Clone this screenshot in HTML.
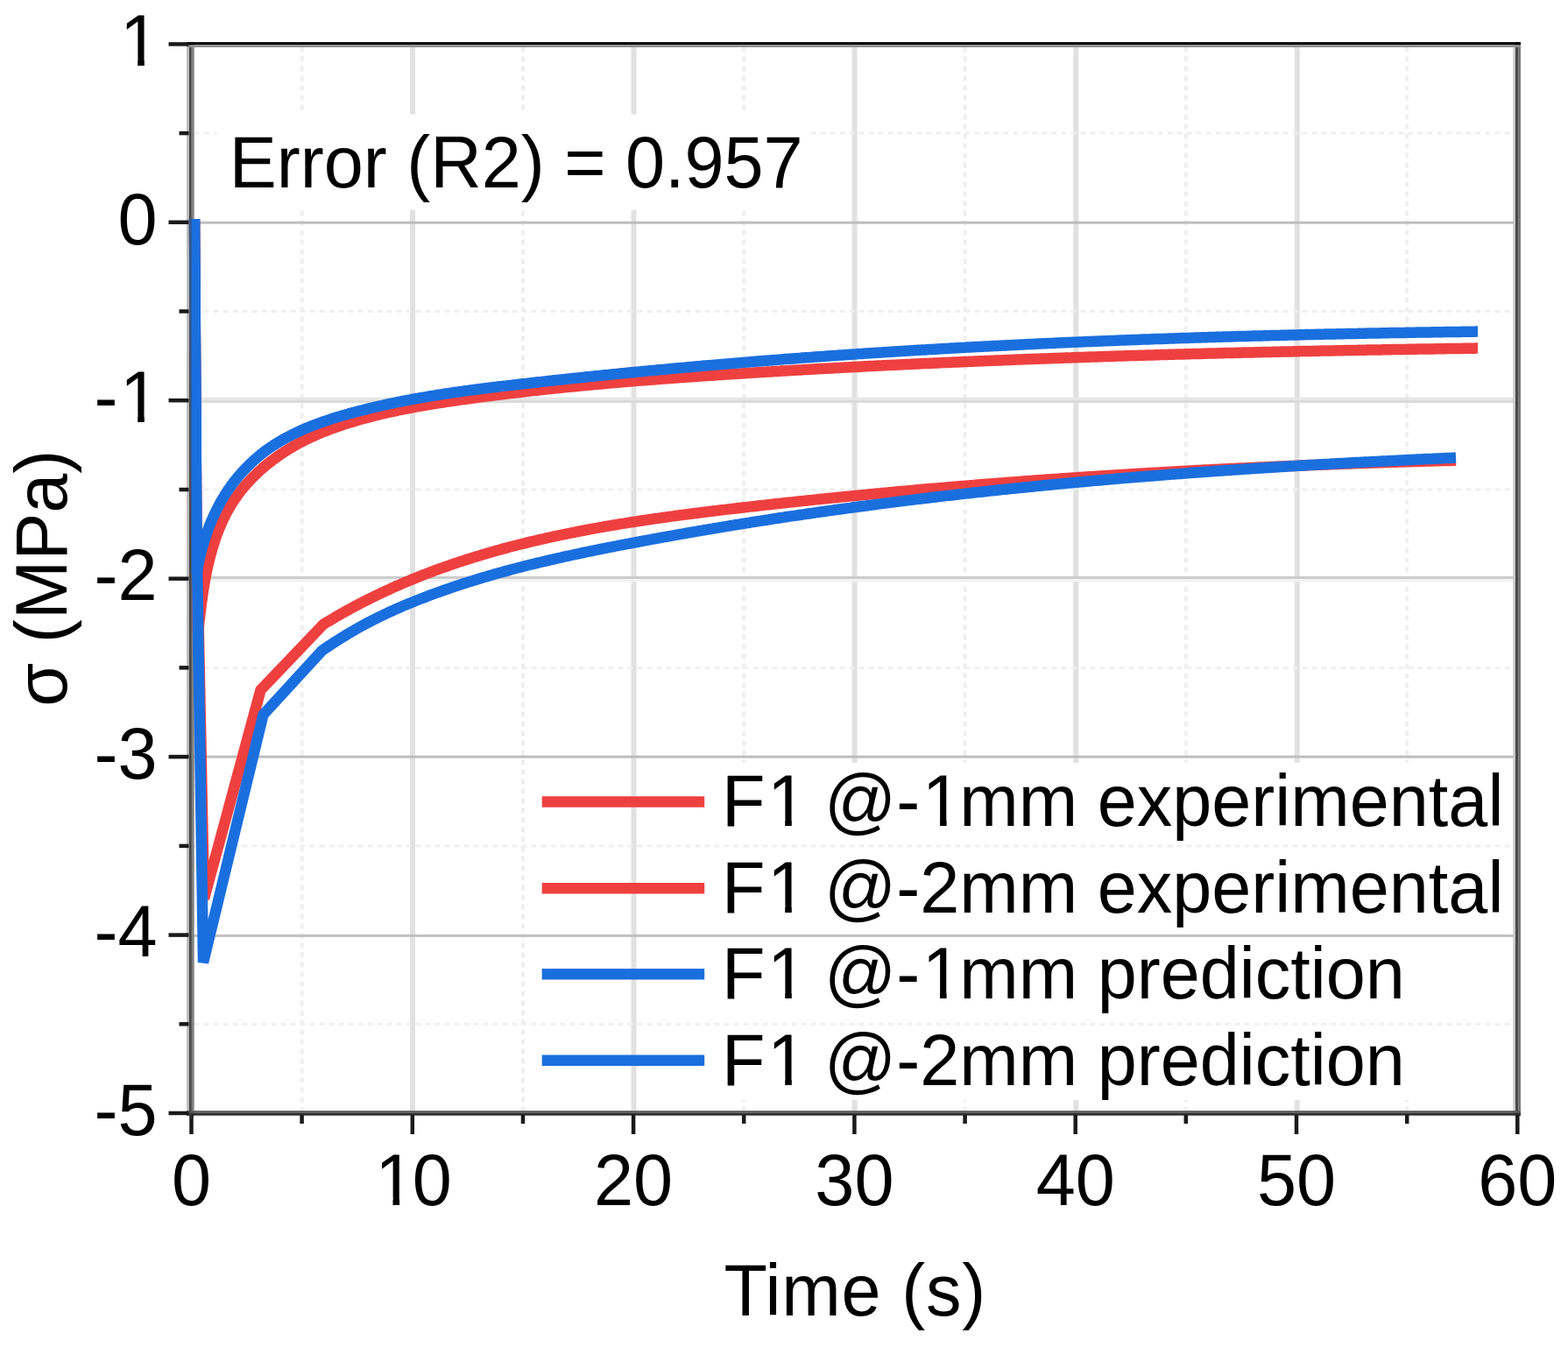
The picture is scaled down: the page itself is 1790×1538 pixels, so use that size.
<!DOCTYPE html>
<html><head><meta charset="utf-8"><title>Stress relaxation</title>
<style>
html,body{margin:0;padding:0;background:#fff;}
body{width:1790px;height:1538px;overflow:hidden;}
svg{display:block;}
text{font-family:"Liberation Sans",Arial,sans-serif;fill:#000;}
</style></head><body>
<svg width="1790" height="1538" viewBox="0 0 1790 1538">
<rect width="1790" height="1538" fill="#fff"/>

<g stroke="#efefef" stroke-width="4" stroke-dasharray="6,5">
<line x1="344.6" y1="53.4" x2="344.6" y2="1268.0"/>
<line x1="597.0" y1="53.4" x2="597.0" y2="1268.0"/>
<line x1="849.2" y1="53.4" x2="849.2" y2="1268.0"/>
<line x1="1101.6" y1="53.4" x2="1101.6" y2="1268.0"/>
<line x1="1353.8" y1="53.4" x2="1353.8" y2="1268.0"/>
<line x1="1606.2" y1="53.4" x2="1606.2" y2="1268.0"/>
</g>
<rect x="468.0" y="52.0" width="6.0" height="1217.0" fill="#e1e1e1"/>
<rect x="720.5" y="52.0" width="6.0" height="1217.0" fill="#e1e1e1"/>
<rect x="972.6" y="52.0" width="6.0" height="1217.0" fill="#e1e1e1"/>
<rect x="1225.3" y="52.0" width="6.0" height="1217.0" fill="#e1e1e1"/>
<rect x="1477.8" y="52.0" width="6.0" height="1217.0" fill="#e1e1e1"/>
<rect x="815.0" y="871.0" width="912.0" height="385.0" fill="#fff"/>
<g stroke="#efefef" stroke-width="3" stroke-dasharray="6,5">
<line x1="221.5" y1="152.1" x2="1729.3" y2="152.1"/>
<line x1="221.5" y1="355.5" x2="1729.3" y2="355.5"/>
<line x1="221.5" y1="559.0" x2="1729.3" y2="559.0"/>
<line x1="221.5" y1="762.4" x2="1729.3" y2="762.4"/>
<line x1="221.5" y1="965.9" x2="1729.3" y2="965.9"/>
<line x1="221.5" y1="1169.3" x2="1729.3" y2="1169.3"/>
</g>
<rect x="248.0" y="130.5" width="674.0" height="109.0" fill="#fff"/>
<rect x="221.0" y="252.7" width="1507.0" height="3.0" fill="#bdbdbd"/>
<rect x="221.0" y="453.7" width="1507.0" height="3.3" fill="#e6e6e6"/>
<rect x="221.0" y="457.0" width="1507.0" height="3.1" fill="#dadada"/>
<rect x="221.0" y="657.9" width="1507.0" height="3.1" fill="#cdcdcd"/>
<rect x="221.0" y="661.0" width="1507.0" height="3.4" fill="#f2f2f2"/>
<rect x="221.0" y="862.6" width="1507.0" height="3.0" fill="#bdbdbd"/>
<rect x="221.0" y="1066.9" width="1507.0" height="3.0" fill="#c0c0c0"/>
<rect x="213.0" y="48.0" width="2.9" height="1226.5" fill="#c0c0c0"/>
<rect x="215.9" y="48.0" width="2.9" height="1226.5" fill="#484848"/>
<rect x="218.8" y="48.0" width="2.9" height="1226.5" fill="#808080"/>
<rect x="1727.4" y="48.0" width="2.6" height="1226.5" fill="#c8c8c8"/>
<rect x="1730.0" y="48.0" width="3.2" height="1226.5" fill="#4a4a4a"/>
<rect x="1733.2" y="48.0" width="2.7" height="1226.5" fill="#707070"/>
<rect x="213.0" y="1268.2" width="1522.9" height="2.6" fill="#5a5a5a"/>
<rect x="213.0" y="1270.8" width="1522.9" height="2.9" fill="#303030"/>
<rect x="213.0" y="48.1" width="1522.9" height="3.2" fill="#000"/>
<rect x="213.0" y="51.3" width="1522.9" height="2.7" fill="#909090"/>
<g stroke="#1a1a1a" stroke-width="4.5">
<line x1="192.5" y1="50.4" x2="215.5" y2="50.4"/>
<line x1="192.5" y1="253.8" x2="215.5" y2="253.8"/>
<line x1="192.5" y1="457.2" x2="215.5" y2="457.2"/>
<line x1="192.5" y1="660.7" x2="215.5" y2="660.7"/>
<line x1="192.5" y1="864.1" x2="215.5" y2="864.1"/>
<line x1="192.5" y1="1067.6" x2="215.5" y2="1067.6"/>
<line x1="192.5" y1="1271.0" x2="215.5" y2="1271.0"/>
<line x1="204.5" y1="152.1" x2="215.5" y2="152.1"/>
<line x1="204.5" y1="355.5" x2="215.5" y2="355.5"/>
<line x1="204.5" y1="559.0" x2="215.5" y2="559.0"/>
<line x1="204.5" y1="762.4" x2="215.5" y2="762.4"/>
<line x1="204.5" y1="965.9" x2="215.5" y2="965.9"/>
<line x1="204.5" y1="1169.3" x2="215.5" y2="1169.3"/>
<line x1="218.5" y1="1273.0" x2="218.5" y2="1295.0"/>
<line x1="470.8" y1="1273.0" x2="470.8" y2="1295.0"/>
<line x1="723.1" y1="1273.0" x2="723.1" y2="1295.0"/>
<line x1="975.4" y1="1273.0" x2="975.4" y2="1295.0"/>
<line x1="1227.7" y1="1273.0" x2="1227.7" y2="1295.0"/>
<line x1="1480.0" y1="1273.0" x2="1480.0" y2="1295.0"/>
<line x1="1732.3" y1="1273.0" x2="1732.3" y2="1295.0"/>
<line x1="344.6" y1="1273.0" x2="344.6" y2="1283.0"/>
<line x1="597.0" y1="1273.0" x2="597.0" y2="1283.0"/>
<line x1="849.2" y1="1273.0" x2="849.2" y2="1283.0"/>
<line x1="1101.6" y1="1273.0" x2="1101.6" y2="1283.0"/>
<line x1="1353.8" y1="1273.0" x2="1353.8" y2="1283.0"/>
<line x1="1606.2" y1="1273.0" x2="1606.2" y2="1283.0"/>
</g>
<g fill="none" stroke-width="12.5" stroke-linejoin="miter" stroke-linecap="butt">
<path stroke="#ef4040" d="M222.0,250.0 L224.2,590.0 L226.0,724.0 L226.2,722.0 L226.4,720.0 L226.6,718.0 L226.8,716.0 L227.0,714.0 L227.2,712.0 L227.4,710.1 L227.7,708.1 L227.9,706.1 L228.1,704.1 L228.3,702.1 L228.6,700.1 L228.8,698.1 L229.0,696.1 L229.3,694.1 L229.5,692.1 L229.8,690.2 L230.0,688.2 L230.3,686.2 L230.6,684.2 L230.9,682.2 L231.1,680.2 L231.4,678.2 L231.7,676.3 L232.0,674.3 L232.3,672.3 L232.7,670.3 L233.0,668.4 L233.3,666.4 L233.7,664.4 L234.0,662.4 L234.4,660.5 L234.7,658.5 L235.1,656.5 L235.5,654.6 L235.9,652.6 L236.3,650.6 L236.7,648.7 L237.2,646.7 L237.6,644.8 L238.1,642.8 L238.5,640.9 L239.0,638.9 L239.5,637.0 L240.0,635.0 L240.5,633.1 L241.0,631.2 L241.6,629.2 L242.1,627.3 L242.7,625.4 L243.3,623.5 L243.9,621.6 L244.5,619.6 L245.1,617.7 L245.7,615.8 L246.4,613.9 L247.0,612.1 L247.7,610.2 L248.4,608.3 L249.2,606.4 L249.9,604.6 L250.6,602.7 L251.4,600.9 L252.2,599.0 L253.0,597.2 L253.8,595.4 L254.7,593.5 L255.5,591.7 L256.4,589.9 L257.3,588.1 L258.2,586.4 L259.2,584.6 L260.1,582.8 L261.1,581.1 L262.1,579.4 L263.1,577.6 L264.2,575.9 L265.2,574.2 L266.3,572.5 L267.4,570.9 L268.6,569.2 L269.7,567.6 L270.9,565.9 L272.0,564.3 L273.2,562.7 L274.5,561.1 L275.7,559.6 L277.0,558.0 L278.2,556.4 L279.5,554.9 L280.8,553.4 L282.2,551.9 L283.5,550.4 L284.9,548.9 L286.2,547.5 L287.6,546.0 L289.0,544.6 L290.5,543.2 L291.9,541.8 L293.3,540.4 L294.8,539.0 L296.3,537.7 L297.8,536.3 L299.3,535.0 L300.8,533.7 L302.3,532.4 L303.9,531.1 L305.4,529.9 L307.0,528.6 L308.5,527.4 L310.1,526.2 L311.7,524.9 L313.3,523.8 L315.0,522.6 L316.6,521.4 L318.2,520.3 L319.9,519.1 L321.5,518.0 L323.2,516.9 L324.9,515.8 L326.6,514.7 L328.3,513.7 L330.0,512.6 L331.7,511.6 L333.4,510.5 L335.1,509.5 L336.9,508.5 L338.6,507.6 L340.4,506.6 L342.1,505.6 L343.9,504.7 L345.7,503.8 L347.5,502.9 L349.3,502.0 L351.1,501.1 L352.9,500.2 L354.7,499.4 L356.5,498.5 L358.3,497.7 L360.2,496.9 L362.0,496.1 L363.8,495.3 L365.7,494.5 L367.5,493.8 L369.4,493.0 L371.3,492.3 L373.1,491.6 L375.0,490.8 L376.9,490.1 L378.8,489.4 L380.6,488.8 L382.5,488.1 L384.4,487.4 L386.3,486.8 L388.2,486.1 L390.1,485.5 L392.0,484.9 L393.9,484.2 L395.8,483.6 L397.7,483.0 L399.6,482.4 L401.6,481.9 L403.5,481.3 L405.4,480.7 L407.3,480.1 L409.3,479.6 L411.2,479.0 L413.1,478.5 L415.0,478.0 L417.0,477.4 L418.9,476.9 L420.8,476.4 L422.8,475.9 L424.7,475.4 L426.7,474.9 L428.6,474.4 L430.6,473.9 L432.5,473.5 L434.4,473.0 L436.4,472.5 L438.3,472.1 L440.3,471.6 L442.3,471.2 L444.2,470.7 L446.2,470.3 L448.1,469.9 L450.1,469.5 L452.0,469.1 L454.0,468.6 L456.0,468.2 L457.9,467.8 L459.9,467.4 L461.9,467.0 L463.8,466.7 L465.8,466.3 L467.8,465.9 L469.7,465.5 L471.7,465.2 L473.7,464.8 L475.6,464.4 L477.6,464.1 L479.6,463.7 L481.6,463.4 L483.5,463.1 L485.5,462.7 L487.5,462.4 L489.5,462.1 L491.4,461.7 L493.4,461.4 L495.4,461.1 L497.4,460.8 L499.3,460.4 L501.3,460.1 L503.3,459.8 L505.3,459.5 L507.3,459.2 L509.2,458.9 L511.2,458.6 L513.2,458.3 L515.2,458.0 L517.2,457.7 L519.1,457.5 L521.1,457.2 L523.1,456.9 L525.1,456.6 L527.1,456.3 L529.1,456.1 L531.1,455.8 L533.0,455.5 L535.0,455.2 L537.0,455.0 L539.0,454.7 L541.0,454.4 L543.0,454.2 L544.9,453.9 L546.9,453.6 L548.9,453.4 L550.9,453.1 L552.9,452.8 L554.9,452.6 L556.9,452.3 L558.9,452.1 L560.8,451.8 L562.8,451.6 L564.8,451.3 L566.8,451.1 L568.8,450.8 L570.8,450.6 L572.8,450.3 L574.8,450.1 L576.7,449.8 L578.7,449.6 L580.7,449.4 L582.7,449.1 L584.7,448.9 L586.7,448.7 L588.7,448.4 L590.7,448.2 L592.7,448.0 L594.7,447.7 L596.6,447.5 L598.6,447.3 L600.6,447.0 L602.6,446.8 L604.6,446.6 L606.6,446.4 L608.6,446.1 L610.6,445.9 L612.6,445.7 L614.6,445.5 L616.6,445.3 L618.5,445.0 L620.5,444.8 L622.5,444.6 L624.5,444.4 L626.5,444.2 L628.5,444.0 L630.5,443.8 L632.5,443.6 L634.5,443.4 L636.5,443.2 L638.5,442.9 L640.5,442.7 L642.5,442.5 L644.4,442.3 L646.4,442.1 L648.4,441.9 L650.4,441.7 L652.4,441.5 L654.4,441.4 L656.4,441.2 L658.4,441.0 L660.4,440.8 L662.4,440.6 L664.4,440.4 L666.4,440.2 L668.4,440.0 L670.4,439.8 L672.4,439.6 L674.4,439.5 L676.4,439.3 L678.3,439.1 L680.3,438.9 L682.3,438.7 L684.3,438.5 L686.3,438.4 L688.3,438.2 L690.3,438.0 L692.3,437.8 L694.3,437.6 L696.3,437.5 L698.3,437.3 L700.3,437.1 L702.3,437.0 L704.3,436.8 L706.3,436.6 L708.3,436.4 L710.3,436.3 L712.3,436.1 L714.3,435.9 L716.3,435.8 L718.3,435.6 L720.3,435.4 L722.3,435.3 L724.3,435.1 L726.3,435.0 L728.2,434.8 L730.2,434.6 L732.2,434.5 L734.2,434.3 L736.2,434.2 L738.2,434.0 L740.2,433.8 L742.2,433.7 L744.2,433.5 L746.2,433.4 L748.2,433.2 L750.2,433.1 L752.2,432.9 L754.2,432.8 L756.2,432.6 L758.2,432.5 L760.2,432.3 L762.2,432.2 L764.2,432.0 L766.2,431.9 L768.2,431.7 L770.2,431.6 L772.2,431.4 L774.2,431.3 L776.2,431.1 L778.2,431.0 L780.2,430.9 L782.2,430.7 L784.2,430.6 L786.2,430.4 L788.2,430.3 L790.2,430.2 L792.2,430.0 L794.2,429.9 L796.2,429.7 L798.2,429.6 L800.2,429.5 L802.2,429.3 L804.2,429.2 L806.2,429.1 L808.2,428.9 L810.2,428.8 L812.2,428.7 L814.2,428.5 L816.2,428.4 L818.2,428.3 L820.2,428.1 L822.2,428.0 L824.2,427.9 L826.2,427.7 L828.2,427.6 L830.2,427.5 L832.2,427.3 L834.2,427.2 L836.2,427.1 L838.2,427.0 L840.2,426.8 L842.2,426.7 L844.2,426.6 L846.2,426.4 L848.2,426.3 L850.2,426.2 L852.2,426.1 L854.1,425.9 L856.1,425.8 L858.1,425.7 L860.1,425.6 L862.1,425.4 L864.1,425.3 L866.1,425.2 L868.1,425.1 L870.1,425.0 L872.1,424.8 L874.1,424.7 L876.1,424.6 L878.1,424.5 L880.1,424.4 L882.1,424.2 L884.1,424.1 L886.1,424.0 L888.1,423.9 L890.1,423.8 L892.1,423.6 L894.1,423.5 L896.1,423.4 L898.1,423.3 L900.1,423.2 L902.1,423.0 L904.1,422.9 L906.1,422.8 L908.1,422.7 L910.1,422.6 L912.1,422.5 L914.1,422.4 L916.1,422.2 L918.1,422.1 L920.1,422.0 L922.1,421.9 L924.1,421.8 L926.1,421.7 L928.1,421.6 L930.1,421.5 L932.1,421.3 L934.1,421.2 L936.1,421.1 L938.1,421.0 L940.1,420.9 L942.1,420.8 L944.1,420.7 L946.1,420.6 L948.1,420.5 L950.1,420.4 L952.2,420.2 L954.2,420.1 L956.2,420.0 L958.2,419.9 L960.2,419.8 L962.2,419.7 L964.2,419.6 L966.2,419.5 L968.2,419.4 L970.2,419.3 L972.2,419.2 L974.2,419.1 L976.2,419.0 L978.2,418.9 L980.2,418.8 L982.2,418.7 L984.2,418.6 L986.2,418.5 L988.2,418.3 L990.2,418.2 L992.2,418.1 L994.2,418.0 L996.2,417.9 L998.2,417.8 L1000.2,417.7 L1002.2,417.6 L1004.2,417.5 L1006.2,417.4 L1008.2,417.3 L1010.2,417.2 L1012.2,417.1 L1014.2,417.0 L1016.2,416.9 L1018.2,416.8 L1020.2,416.8 L1022.2,416.7 L1024.2,416.6 L1026.2,416.5 L1028.2,416.4 L1030.2,416.3 L1032.2,416.2 L1034.2,416.1 L1036.2,416.0 L1038.2,415.9 L1040.2,415.8 L1042.2,415.7 L1044.2,415.6 L1046.2,415.5 L1048.2,415.4 L1050.2,415.3 L1052.2,415.2 L1054.2,415.1 L1056.2,415.0 L1058.2,415.0 L1060.2,414.9 L1062.2,414.8 L1064.2,414.7 L1066.2,414.6 L1068.2,414.5 L1070.2,414.4 L1072.2,414.3 L1074.2,414.2 L1076.2,414.1 L1078.2,414.1 L1080.2,414.0 L1082.2,413.9 L1084.2,413.8 L1086.2,413.7 L1088.2,413.6 L1090.2,413.5 L1092.2,413.4 L1094.2,413.4 L1096.2,413.3 L1098.2,413.2 L1100.2,413.1 L1102.2,413.0 L1104.2,412.9 L1106.2,412.8 L1108.2,412.8 L1110.2,412.7 L1112.2,412.6 L1114.2,412.5 L1116.2,412.4 L1118.2,412.3 L1120.2,412.3 L1122.2,412.2 L1124.2,412.1 L1126.2,412.0 L1128.3,411.9 L1130.3,411.8 L1132.3,411.8 L1134.3,411.7 L1136.3,411.6 L1138.3,411.5 L1140.3,411.4 L1142.3,411.4 L1144.3,411.3 L1146.3,411.2 L1148.3,411.1 L1150.3,411.0 L1152.3,411.0 L1154.3,410.9 L1156.3,410.8 L1158.3,410.7 L1160.3,410.6 L1162.3,410.6 L1164.3,410.5 L1166.3,410.4 L1168.3,410.3 L1170.3,410.3 L1172.3,410.2 L1174.3,410.1 L1176.3,410.0 L1178.3,410.0 L1180.3,409.9 L1182.3,409.8 L1184.3,409.7 L1186.3,409.7 L1188.3,409.6 L1190.3,409.5 L1192.3,409.4 L1194.3,409.4 L1196.3,409.3 L1198.3,409.2 L1200.3,409.2 L1202.3,409.1 L1204.3,409.0 L1206.3,408.9 L1208.3,408.9 L1210.3,408.8 L1212.3,408.7 L1214.3,408.7 L1216.3,408.6 L1218.3,408.5 L1220.3,408.4 L1222.3,408.4 L1224.3,408.3 L1226.3,408.2 L1228.4,408.2 L1230.4,408.1 L1232.4,408.0 L1234.4,408.0 L1236.4,407.9 L1238.4,407.8 L1240.4,407.8 L1242.4,407.7 L1244.4,407.6 L1246.4,407.6 L1248.4,407.5 L1250.4,407.4 L1252.4,407.4 L1254.4,407.3 L1256.4,407.2 L1258.4,407.2 L1260.4,407.1 L1262.4,407.0 L1264.4,407.0 L1266.4,406.9 L1268.4,406.8 L1270.4,406.8 L1272.4,406.7 L1274.4,406.6 L1276.4,406.6 L1278.4,406.5 L1280.4,406.5 L1282.4,406.4 L1284.4,406.3 L1286.4,406.3 L1288.4,406.2 L1290.4,406.1 L1292.4,406.1 L1294.4,406.0 L1296.4,406.0 L1298.4,405.9 L1300.4,405.8 L1302.4,405.8 L1304.4,405.7 L1306.4,405.7 L1308.4,405.6 L1310.4,405.5 L1312.5,405.5 L1314.5,405.4 L1316.5,405.4 L1318.5,405.3 L1320.5,405.2 L1322.5,405.2 L1324.5,405.1 L1326.5,405.1 L1328.5,405.0 L1330.5,405.0 L1332.5,404.9 L1334.5,404.8 L1336.5,404.8 L1338.5,404.7 L1340.5,404.7 L1342.5,404.6 L1344.5,404.6 L1346.5,404.5 L1348.5,404.5 L1350.5,404.4 L1352.5,404.3 L1354.5,404.3 L1356.5,404.2 L1358.5,404.2 L1360.5,404.1 L1362.5,404.1 L1364.5,404.0 L1366.5,404.0 L1368.5,403.9 L1370.5,403.9 L1372.5,403.8 L1374.5,403.8 L1376.5,403.7 L1378.5,403.6 L1380.5,403.6 L1382.5,403.5 L1384.5,403.5 L1386.5,403.4 L1388.6,403.4 L1390.6,403.3 L1392.6,403.3 L1394.6,403.2 L1396.6,403.2 L1398.6,403.1 L1400.6,403.1 L1402.6,403.0 L1404.6,403.0 L1406.6,402.9 L1408.6,402.9 L1410.6,402.8 L1412.6,402.8 L1414.6,402.7 L1416.6,402.7 L1418.6,402.6 L1420.6,402.6 L1422.6,402.5 L1424.6,402.5 L1426.6,402.5 L1428.6,402.4 L1430.6,402.4 L1432.6,402.3 L1434.6,402.3 L1436.6,402.2 L1438.6,402.2 L1440.6,402.1 L1442.6,402.1 L1444.6,402.0 L1446.6,402.0 L1448.6,401.9 L1450.6,401.9 L1452.6,401.8 L1454.6,401.8 L1456.6,401.8 L1458.7,401.7 L1460.7,401.7 L1462.7,401.6 L1464.7,401.6 L1466.7,401.5 L1468.7,401.5 L1470.7,401.4 L1472.7,401.4 L1474.7,401.4 L1476.7,401.3 L1478.7,401.3 L1480.7,401.2 L1482.7,401.2 L1484.7,401.1 L1486.7,401.1 L1488.7,401.1 L1490.7,401.0 L1492.7,401.0 L1494.7,400.9 L1496.7,400.9 L1498.7,400.9 L1500.7,400.8 L1502.7,400.8 L1504.7,400.7 L1506.7,400.7 L1508.7,400.6 L1510.7,400.6 L1512.7,400.6 L1514.7,400.5 L1516.7,400.5 L1518.7,400.4 L1520.7,400.4 L1522.7,400.4 L1524.7,400.3 L1526.8,400.3 L1528.8,400.2 L1530.8,400.2 L1532.8,400.2 L1534.8,400.1 L1536.8,400.1 L1538.8,400.1 L1540.8,400.0 L1542.8,400.0 L1544.8,399.9 L1546.8,399.9 L1548.8,399.9 L1550.8,399.8 L1552.8,399.8 L1554.8,399.8 L1556.8,399.7 L1558.8,399.7 L1560.8,399.6 L1562.8,399.6 L1564.8,399.6 L1566.8,399.5 L1568.8,399.5 L1570.8,399.5 L1572.8,399.4 L1574.8,399.4 L1576.8,399.4 L1578.8,399.3 L1580.8,399.3 L1582.8,399.3 L1584.8,399.2 L1586.8,399.2 L1588.8,399.1 L1590.8,399.1 L1592.9,399.1 L1594.9,399.0 L1596.9,399.0 L1598.9,399.0 L1600.9,398.9 L1602.9,398.9 L1604.9,398.9 L1606.9,398.8 L1608.9,398.8 L1610.9,398.8 L1612.9,398.7 L1614.9,398.7 L1616.9,398.7 L1618.9,398.6 L1620.9,398.6 L1622.9,398.6 L1624.9,398.5 L1626.9,398.5 L1628.9,398.5 L1630.9,398.4 L1632.9,398.4 L1634.9,398.4 L1636.9,398.4 L1638.9,398.3 L1640.9,398.3 L1642.9,398.3 L1644.9,398.2 L1646.9,398.2 L1648.9,398.2 L1650.9,398.1 L1652.9,398.1 L1654.9,398.1 L1657.0,398.0 L1659.0,398.0 L1661.0,398.0 L1663.0,398.0 L1665.0,397.9 L1667.0,397.9 L1669.0,397.9 L1671.0,397.8 L1673.0,397.8 L1675.0,397.8 L1677.0,397.7 L1679.0,397.7 L1681.0,397.7 L1683.0,397.7 L1685.0,397.6 L1687.0,397.6"/>
<path stroke="#ef4040" d="M222.0,250.0 L224.2,590.0 L233.0,1026.0 L297.5,788.0 L369.0,713.0 L370.7,711.9 L372.4,710.9 L374.1,709.9 L375.9,708.8 L377.6,707.8 L379.3,706.8 L381.0,705.8 L382.8,704.7 L384.5,703.7 L386.2,702.7 L388.0,701.7 L389.7,700.7 L391.5,699.8 L393.2,698.8 L395.0,697.8 L396.7,696.8 L398.5,695.9 L400.2,694.9 L402.0,693.9 L403.8,693.0 L405.5,692.0 L407.3,691.1 L409.1,690.2 L410.8,689.2 L412.6,688.3 L414.4,687.4 L416.2,686.5 L418.0,685.6 L419.8,684.7 L421.6,683.8 L423.4,682.9 L425.2,682.0 L427.0,681.1 L428.8,680.2 L430.6,679.4 L432.4,678.5 L434.2,677.6 L436.0,676.8 L437.8,675.9 L439.6,675.1 L441.4,674.2 L443.3,673.4 L445.1,672.6 L446.9,671.7 L448.7,670.9 L450.6,670.1 L452.4,669.3 L454.2,668.5 L456.1,667.7 L457.9,666.9 L459.8,666.1 L461.6,665.3 L463.5,664.5 L465.3,663.7 L467.2,663.0 L469.0,662.2 L470.9,661.4 L472.7,660.7 L474.6,659.9 L476.4,659.2 L478.3,658.4 L480.2,657.7 L482.0,656.9 L483.9,656.2 L485.8,655.5 L487.6,654.8 L489.5,654.1 L491.4,653.3 L493.3,652.6 L495.1,651.9 L497.0,651.2 L498.9,650.5 L500.8,649.9 L502.7,649.2 L504.6,648.5 L506.5,647.8 L508.3,647.1 L510.2,646.5 L512.1,645.8 L514.0,645.2 L515.9,644.5 L517.8,643.9 L519.7,643.2 L521.6,642.6 L523.5,641.9 L525.4,641.3 L527.3,640.7 L529.2,640.1 L531.1,639.5 L533.1,638.8 L535.0,638.2 L536.9,637.6 L538.8,637.0 L540.7,636.4 L542.6,635.8 L544.5,635.2 L546.5,634.7 L548.4,634.1 L550.3,633.5 L552.2,632.9 L554.1,632.4 L556.1,631.8 L558.0,631.2 L559.9,630.7 L561.8,630.1 L563.8,629.6 L565.7,629.0 L567.6,628.5 L569.6,628.0 L571.5,627.4 L573.4,626.9 L575.4,626.4 L577.3,625.9 L579.2,625.3 L581.2,624.8 L583.1,624.3 L585.1,623.8 L587.0,623.3 L588.9,622.8 L590.9,622.3 L592.8,621.8 L594.8,621.3 L596.7,620.8 L598.7,620.4 L600.6,619.9 L602.6,619.4 L604.5,618.9 L606.5,618.5 L608.4,618.0 L610.4,617.5 L612.3,617.1 L614.3,616.6 L616.2,616.2 L618.2,615.7 L620.1,615.3 L622.1,614.8 L624.0,614.4 L626.0,614.0 L628.0,613.5 L629.9,613.1 L631.9,612.7 L633.8,612.2 L635.8,611.8 L637.8,611.4 L639.7,611.0 L641.7,610.6 L643.7,610.2 L645.6,609.8 L647.6,609.4 L649.5,609.0 L651.5,608.6 L653.5,608.2 L655.4,607.8 L657.4,607.4 L659.4,607.0 L661.3,606.6 L663.3,606.3 L665.3,605.9 L667.3,605.5 L669.2,605.1 L671.2,604.8 L673.2,604.4 L675.1,604.0 L677.1,603.7 L679.1,603.3 L681.1,602.9 L683.0,602.6 L685.0,602.2 L687.0,601.9 L689.0,601.5 L690.9,601.2 L692.9,600.9 L694.9,600.5 L696.9,600.2 L698.8,599.8 L700.8,599.5 L702.8,599.2 L704.8,598.9 L706.8,598.5 L708.7,598.2 L710.7,597.9 L712.7,597.6 L714.7,597.2 L716.7,596.9 L718.6,596.6 L720.6,596.3 L722.6,596.0 L724.6,595.7 L726.6,595.4 L728.5,595.1 L730.5,594.8 L732.5,594.5 L734.5,594.2 L736.5,593.9 L738.5,593.6 L740.4,593.3 L742.4,593.0 L744.4,592.7 L746.4,592.4 L748.4,592.1 L750.4,591.9 L752.4,591.6 L754.3,591.3 L756.3,591.0 L758.3,590.7 L760.3,590.5 L762.3,590.2 L764.3,589.9 L766.3,589.6 L768.2,589.4 L770.2,589.1 L772.2,588.8 L774.2,588.6 L776.2,588.3 L778.2,588.1 L780.2,587.8 L782.2,587.5 L784.1,587.3 L786.1,587.0 L788.1,586.8 L790.1,586.5 L792.1,586.3 L794.1,586.0 L796.1,585.7 L798.1,585.5 L800.1,585.2 L802.1,585.0 L804.0,584.8 L806.0,584.5 L808.0,584.3 L810.0,584.0 L812.0,583.8 L814.0,583.5 L816.0,583.3 L818.0,583.1 L820.0,582.8 L822.0,582.6 L823.9,582.3 L825.9,582.1 L827.9,581.9 L829.9,581.6 L831.9,581.4 L833.9,581.2 L835.9,580.9 L837.9,580.7 L839.9,580.5 L841.9,580.2 L843.9,580.0 L845.9,579.8 L847.9,579.6 L849.8,579.3 L851.8,579.1 L853.8,578.9 L855.8,578.6 L857.8,578.4 L859.8,578.2 L861.8,578.0 L863.8,577.7 L865.8,577.5 L867.8,577.3 L869.8,577.1 L871.8,576.9 L873.8,576.6 L875.8,576.4 L877.7,576.2 L879.7,576.0 L881.7,575.8 L883.7,575.5 L885.7,575.3 L887.7,575.1 L889.7,574.9 L891.7,574.7 L893.7,574.4 L895.7,574.2 L897.7,574.0 L899.7,573.8 L901.7,573.6 L903.7,573.4 L905.7,573.2 L907.7,572.9 L909.6,572.7 L911.6,572.5 L913.6,572.3 L915.6,572.1 L917.6,571.9 L919.6,571.7 L921.6,571.5 L923.6,571.3 L925.6,571.1 L927.6,570.9 L929.6,570.6 L931.6,570.4 L933.6,570.2 L935.6,570.0 L937.6,569.8 L939.6,569.6 L941.6,569.4 L943.6,569.2 L945.5,569.0 L947.5,568.8 L949.5,568.6 L951.5,568.4 L953.5,568.2 L955.5,568.0 L957.5,567.8 L959.5,567.6 L961.5,567.4 L963.5,567.2 L965.5,567.0 L967.5,566.8 L969.5,566.6 L971.5,566.4 L973.5,566.2 L975.5,566.0 L977.5,565.8 L979.5,565.6 L981.5,565.4 L983.5,565.3 L985.5,565.1 L987.5,564.9 L989.5,564.7 L991.5,564.5 L993.4,564.3 L995.4,564.1 L997.4,563.9 L999.4,563.7 L1001.4,563.5 L1003.4,563.4 L1005.4,563.2 L1007.4,563.0 L1009.4,562.8 L1011.4,562.6 L1013.4,562.4 L1015.4,562.2 L1017.4,562.1 L1019.4,561.9 L1021.4,561.7 L1023.4,561.5 L1025.4,561.3 L1027.4,561.1 L1029.4,561.0 L1031.4,560.8 L1033.4,560.6 L1035.4,560.4 L1037.4,560.2 L1039.4,560.1 L1041.4,559.9 L1043.4,559.7 L1045.4,559.5 L1047.4,559.3 L1049.4,559.2 L1051.4,559.0 L1053.4,558.8 L1055.4,558.6 L1057.4,558.5 L1059.4,558.3 L1061.3,558.1 L1063.3,558.0 L1065.3,557.8 L1067.3,557.6 L1069.3,557.4 L1071.3,557.3 L1073.3,557.1 L1075.3,556.9 L1077.3,556.8 L1079.3,556.6 L1081.3,556.4 L1083.3,556.2 L1085.3,556.1 L1087.3,555.9 L1089.3,555.7 L1091.3,555.6 L1093.3,555.4 L1095.3,555.2 L1097.3,555.1 L1099.3,554.9 L1101.3,554.8 L1103.3,554.6 L1105.3,554.4 L1107.3,554.3 L1109.3,554.1 L1111.3,553.9 L1113.3,553.8 L1115.3,553.6 L1117.3,553.5 L1119.3,553.3 L1121.3,553.1 L1123.3,553.0 L1125.3,552.8 L1127.3,552.7 L1129.3,552.5 L1131.3,552.4 L1133.3,552.2 L1135.3,552.0 L1137.3,551.9 L1139.3,551.7 L1141.3,551.6 L1143.3,551.4 L1145.3,551.3 L1147.3,551.1 L1149.3,551.0 L1151.3,550.8 L1153.3,550.7 L1155.3,550.5 L1157.3,550.4 L1159.3,550.2 L1161.3,550.1 L1163.3,549.9 L1165.3,549.8 L1167.3,549.6 L1169.3,549.5 L1171.3,549.3 L1173.3,549.2 L1175.3,549.0 L1177.3,548.9 L1179.3,548.7 L1181.3,548.6 L1183.3,548.5 L1185.3,548.3 L1187.3,548.2 L1189.3,548.0 L1191.3,547.9 L1193.3,547.7 L1195.3,547.6 L1197.3,547.5 L1199.3,547.3 L1201.3,547.2 L1203.3,547.0 L1205.3,546.9 L1207.3,546.8 L1209.3,546.6 L1211.3,546.5 L1213.3,546.3 L1215.3,546.2 L1217.3,546.1 L1219.3,545.9 L1221.3,545.8 L1223.3,545.7 L1225.3,545.5 L1227.3,545.4 L1229.3,545.3 L1231.3,545.1 L1233.3,545.0 L1235.3,544.9 L1237.3,544.7 L1239.3,544.6 L1241.3,544.5 L1243.3,544.3 L1245.3,544.2 L1247.3,544.1 L1249.3,543.9 L1251.3,543.8 L1253.3,543.7 L1255.3,543.5 L1257.3,543.4 L1259.3,543.3 L1261.3,543.2 L1263.3,543.0 L1265.3,542.9 L1267.3,542.8 L1269.3,542.7 L1271.3,542.5 L1273.3,542.4 L1275.3,542.3 L1277.3,542.2 L1279.3,542.0 L1281.3,541.9 L1283.3,541.8 L1285.3,541.7 L1287.3,541.6 L1289.3,541.4 L1291.3,541.3 L1293.4,541.2 L1295.4,541.1 L1297.4,541.0 L1299.4,540.8 L1301.4,540.7 L1303.4,540.6 L1305.4,540.5 L1307.4,540.4 L1309.4,540.2 L1311.4,540.1 L1313.4,540.0 L1315.4,539.9 L1317.4,539.8 L1319.4,539.7 L1321.4,539.6 L1323.4,539.4 L1325.4,539.3 L1327.4,539.2 L1329.4,539.1 L1331.4,539.0 L1333.4,538.9 L1335.4,538.8 L1337.4,538.7 L1339.4,538.5 L1341.4,538.4 L1343.4,538.3 L1345.4,538.2 L1347.4,538.1 L1349.4,538.0 L1351.4,537.9 L1353.4,537.8 L1355.4,537.7 L1357.4,537.6 L1359.4,537.5 L1361.4,537.4 L1363.4,537.2 L1365.4,537.1 L1367.4,537.0 L1369.4,536.9 L1371.4,536.8 L1373.4,536.7 L1375.4,536.6 L1377.4,536.5 L1379.5,536.4 L1381.5,536.3 L1383.5,536.2 L1385.5,536.1 L1387.5,536.0 L1389.5,535.9 L1391.5,535.8 L1393.5,535.7 L1395.5,535.6 L1397.5,535.5 L1399.5,535.4 L1401.5,535.3 L1403.5,535.2 L1405.5,535.1 L1407.5,535.0 L1409.5,534.9 L1411.5,534.8 L1413.5,534.7 L1415.5,534.6 L1417.5,534.5 L1419.5,534.5 L1421.5,534.4 L1423.5,534.3 L1425.5,534.2 L1427.5,534.1 L1429.5,534.0 L1431.5,533.9 L1433.5,533.8 L1435.5,533.7 L1437.5,533.6 L1439.5,533.5 L1441.5,533.4 L1443.5,533.4 L1445.6,533.3 L1447.6,533.2 L1449.6,533.1 L1451.6,533.0 L1453.6,532.9 L1455.6,532.8 L1457.6,532.7 L1459.6,532.6 L1461.6,532.6 L1463.6,532.5 L1465.6,532.4 L1467.6,532.3 L1469.6,532.2 L1471.6,532.1 L1473.6,532.0 L1475.6,532.0 L1477.6,531.9 L1479.6,531.8 L1481.6,531.7 L1483.6,531.6 L1485.6,531.6 L1487.6,531.5 L1489.6,531.4 L1491.6,531.3 L1493.6,531.2 L1495.6,531.1 L1497.6,531.1 L1499.7,531.0 L1501.7,530.9 L1503.7,530.8 L1505.7,530.8 L1507.7,530.7 L1509.7,530.6 L1511.7,530.5 L1513.7,530.4 L1515.7,530.4 L1517.7,530.3 L1519.7,530.2 L1521.7,530.1 L1523.7,530.1 L1525.7,530.0 L1527.7,529.9 L1529.7,529.8 L1531.7,529.8 L1533.7,529.7 L1535.7,529.6 L1537.7,529.5 L1539.7,529.5 L1541.7,529.4 L1543.7,529.3 L1545.7,529.3 L1547.7,529.2 L1549.8,529.1 L1551.8,529.0 L1553.8,529.0 L1555.8,528.9 L1557.8,528.8 L1559.8,528.8 L1561.8,528.7 L1563.8,528.6 L1565.8,528.6 L1567.8,528.5 L1569.8,528.4 L1571.8,528.4 L1573.8,528.3 L1575.8,528.2 L1577.8,528.2 L1579.8,528.1 L1581.8,528.0 L1583.8,528.0 L1585.8,527.9 L1587.8,527.8 L1589.8,527.8 L1591.8,527.7 L1593.8,527.7 L1595.8,527.6 L1597.9,527.5 L1599.9,527.5 L1601.9,527.4 L1603.9,527.3 L1605.9,527.3 L1607.9,527.2 L1609.9,527.2 L1611.9,527.1 L1613.9,527.0 L1615.9,527.0 L1617.9,526.9 L1619.9,526.9 L1621.9,526.8 L1623.9,526.7 L1625.9,526.7 L1627.9,526.6 L1629.9,526.6 L1631.9,526.5 L1633.9,526.5 L1635.9,526.4 L1637.9,526.3 L1639.9,526.3 L1642.0,526.2 L1644.0,526.2 L1646.0,526.1 L1648.0,526.1 L1650.0,526.0 L1652.0,526.0 L1654.0,525.9 L1656.0,525.9 L1658.0,525.8 L1660.0,525.8 L1662.0,525.7"/>
<path stroke="#1a6fde" d="M222.0,250.0 L224.2,590.0 L224.5,655.0 L224.8,653.0 L225.1,651.0 L225.5,649.1 L225.8,647.1 L226.2,645.1 L226.6,643.2 L227.0,641.2 L227.4,639.2 L227.9,637.3 L228.3,635.3 L228.8,633.4 L229.3,631.4 L229.7,629.5 L230.3,627.5 L230.8,625.6 L231.3,623.7 L231.9,621.7 L232.4,619.8 L233.0,617.9 L233.6,616.0 L234.2,614.1 L234.9,612.2 L235.5,610.3 L236.2,608.4 L236.8,606.5 L237.5,604.6 L238.2,602.7 L238.9,600.9 L239.7,599.0 L240.4,597.2 L241.2,595.3 L242.0,593.5 L242.8,591.6 L243.6,589.8 L244.4,588.0 L245.3,586.2 L246.2,584.3 L247.0,582.5 L247.9,580.8 L248.9,579.0 L249.8,577.2 L250.8,575.4 L251.7,573.7 L252.7,571.9 L253.7,570.2 L254.7,568.5 L255.8,566.8 L256.8,565.0 L257.9,563.4 L259.0,561.7 L260.1,560.0 L261.2,558.3 L262.4,556.7 L263.5,555.1 L264.7,553.4 L265.9,551.8 L267.1,550.2 L268.3,548.7 L269.6,547.1 L270.9,545.5 L272.1,544.0 L273.4,542.5 L274.8,540.9 L276.1,539.4 L277.4,538.0 L278.8,536.5 L280.2,535.0 L281.6,533.6 L283.0,532.2 L284.4,530.8 L285.8,529.4 L287.3,528.0 L288.8,526.6 L290.3,525.3 L291.8,524.0 L293.3,522.6 L294.8,521.3 L296.3,520.1 L297.9,518.8 L299.5,517.6 L301.1,516.3 L302.7,515.1 L304.3,513.9 L305.9,512.8 L307.5,511.6 L309.2,510.5 L310.9,509.4 L312.5,508.3 L314.2,507.2 L315.9,506.1 L317.6,505.1 L319.3,504.0 L321.1,503.0 L322.8,502.0 L324.6,501.0 L326.3,500.1 L328.1,499.1 L329.8,498.2 L331.6,497.2 L333.4,496.3 L335.2,495.4 L337.0,494.6 L338.8,493.7 L340.6,492.9 L342.5,492.0 L344.3,491.2 L346.1,490.4 L348.0,489.6 L349.8,488.8 L351.7,488.0 L353.5,487.3 L355.4,486.5 L357.2,485.8 L359.1,485.1 L361.0,484.4 L362.9,483.7 L364.7,483.0 L366.6,482.3 L368.5,481.6 L370.4,481.0 L372.3,480.3 L374.2,479.7 L376.1,479.1 L378.0,478.4 L379.9,477.8 L381.8,477.2 L383.8,476.6 L385.7,476.0 L387.6,475.5 L389.5,474.9 L391.4,474.3 L393.4,473.8 L395.3,473.2 L397.2,472.7 L399.2,472.1 L401.1,471.6 L403.0,471.1 L405.0,470.6 L406.9,470.1 L408.8,469.6 L410.8,469.0 L412.7,468.5 L414.7,468.1 L416.6,467.6 L418.6,467.1 L420.5,466.6 L422.4,466.1 L424.4,465.7 L426.3,465.2 L428.3,464.7 L430.3,464.3 L432.2,463.8 L434.2,463.4 L436.1,463.0 L438.1,462.5 L440.0,462.1 L442.0,461.7 L443.9,461.2 L445.9,460.8 L447.9,460.4 L449.8,460.0 L451.8,459.6 L453.8,459.2 L455.7,458.8 L457.7,458.4 L459.7,458.0 L461.6,457.6 L463.6,457.3 L465.6,456.9 L467.5,456.5 L469.5,456.1 L471.5,455.8 L473.4,455.4 L475.4,455.0 L477.4,454.7 L479.4,454.3 L481.3,454.0 L483.3,453.7 L485.3,453.3 L487.3,453.0 L489.2,452.6 L491.2,452.3 L493.2,452.0 L495.2,451.7 L497.2,451.3 L499.1,451.0 L501.1,450.7 L503.1,450.4 L505.1,450.1 L507.1,449.8 L509.0,449.5 L511.0,449.2 L513.0,448.9 L515.0,448.6 L517.0,448.3 L519.0,448.0 L520.9,447.7 L522.9,447.5 L524.9,447.2 L526.9,446.9 L528.9,446.6 L530.9,446.3 L532.9,446.1 L534.8,445.8 L536.8,445.5 L538.8,445.3 L540.8,445.0 L542.8,444.8 L544.8,444.5 L546.8,444.2 L548.8,444.0 L550.7,443.7 L552.7,443.5 L554.7,443.2 L556.7,443.0 L558.7,442.7 L560.7,442.5 L562.7,442.2 L564.7,442.0 L566.7,441.8 L568.7,441.5 L570.6,441.3 L572.6,441.1 L574.6,440.8 L576.6,440.6 L578.6,440.4 L580.6,440.1 L582.6,439.9 L584.6,439.7 L586.6,439.4 L588.6,439.2 L590.6,439.0 L592.5,438.8 L594.5,438.5 L596.5,438.3 L598.5,438.1 L600.5,437.9 L602.5,437.6 L604.5,437.4 L606.5,437.2 L608.5,437.0 L610.5,436.7 L612.5,436.5 L614.5,436.3 L616.5,436.1 L618.4,435.9 L620.4,435.6 L622.4,435.4 L624.4,435.2 L626.4,435.0 L628.4,434.8 L630.4,434.6 L632.4,434.3 L634.4,434.1 L636.4,433.9 L638.4,433.7 L640.4,433.5 L642.4,433.3 L644.4,433.1 L646.4,432.8 L648.3,432.6 L650.3,432.4 L652.3,432.2 L654.3,432.0 L656.3,431.8 L658.3,431.6 L660.3,431.4 L662.3,431.2 L664.3,431.0 L666.3,430.8 L668.3,430.5 L670.3,430.3 L672.3,430.1 L674.3,429.9 L676.3,429.7 L678.3,429.5 L680.2,429.3 L682.2,429.1 L684.2,428.9 L686.2,428.7 L688.2,428.5 L690.2,428.3 L692.2,428.1 L694.2,427.9 L696.2,427.7 L698.2,427.5 L700.2,427.3 L702.2,427.1 L704.2,426.9 L706.2,426.7 L708.2,426.5 L710.2,426.3 L712.2,426.1 L714.2,425.9 L716.2,425.7 L718.2,425.5 L720.1,425.3 L722.1,425.2 L724.1,425.0 L726.1,424.8 L728.1,424.6 L730.1,424.4 L732.1,424.2 L734.1,424.0 L736.1,423.8 L738.1,423.6 L740.1,423.4 L742.1,423.2 L744.1,423.1 L746.1,422.9 L748.1,422.7 L750.1,422.5 L752.1,422.3 L754.1,422.1 L756.1,421.9 L758.1,421.8 L760.1,421.6 L762.1,421.4 L764.1,421.2 L766.1,421.0 L768.0,420.8 L770.0,420.7 L772.0,420.5 L774.0,420.3 L776.0,420.1 L778.0,419.9 L780.0,419.8 L782.0,419.6 L784.0,419.4 L786.0,419.2 L788.0,419.0 L790.0,418.9 L792.0,418.7 L794.0,418.5 L796.0,418.3 L798.0,418.2 L800.0,418.0 L802.0,417.8 L804.0,417.6 L806.0,417.5 L808.0,417.3 L810.0,417.1 L812.0,416.9 L814.0,416.8 L816.0,416.6 L818.0,416.4 L820.0,416.3 L822.0,416.1 L824.0,415.9 L826.0,415.8 L828.0,415.6 L830.0,415.4 L832.0,415.3 L834.0,415.1 L835.9,414.9 L837.9,414.8 L839.9,414.6 L841.9,414.4 L843.9,414.3 L845.9,414.1 L847.9,413.9 L849.9,413.8 L851.9,413.6 L853.9,413.4 L855.9,413.3 L857.9,413.1 L859.9,413.0 L861.9,412.8 L863.9,412.6 L865.9,412.5 L867.9,412.3 L869.9,412.2 L871.9,412.0 L873.9,411.8 L875.9,411.7 L877.9,411.5 L879.9,411.4 L881.9,411.2 L883.9,411.1 L885.9,410.9 L887.9,410.8 L889.9,410.6 L891.9,410.4 L893.9,410.3 L895.9,410.1 L897.9,410.0 L899.9,409.8 L901.9,409.7 L903.9,409.5 L905.9,409.4 L907.9,409.2 L909.9,409.1 L911.9,408.9 L913.9,408.8 L915.9,408.6 L917.9,408.5 L919.9,408.3 L921.9,408.2 L923.9,408.1 L925.9,407.9 L927.9,407.8 L929.9,407.6 L931.9,407.5 L933.9,407.3 L935.9,407.2 L937.9,407.0 L939.9,406.9 L941.9,406.8 L943.9,406.6 L945.9,406.5 L947.9,406.3 L949.9,406.2 L951.9,406.1 L953.9,405.9 L955.9,405.8 L957.9,405.6 L959.9,405.5 L961.9,405.4 L963.9,405.2 L965.9,405.1 L967.9,404.9 L969.9,404.8 L971.9,404.7 L973.9,404.5 L975.9,404.4 L977.9,404.3 L979.9,404.1 L981.9,404.0 L983.9,403.9 L985.9,403.7 L987.9,403.6 L989.9,403.5 L991.9,403.3 L993.9,403.2 L995.9,403.1 L997.9,402.9 L999.9,402.8 L1001.9,402.7 L1003.9,402.6 L1005.9,402.4 L1007.9,402.3 L1009.9,402.2 L1011.9,402.0 L1013.9,401.9 L1015.9,401.8 L1017.9,401.7 L1019.9,401.5 L1021.9,401.4 L1023.9,401.3 L1025.9,401.2 L1027.9,401.0 L1029.9,400.9 L1031.9,400.8 L1033.9,400.7 L1035.9,400.6 L1037.9,400.4 L1039.9,400.3 L1041.9,400.2 L1043.9,400.1 L1045.9,400.0 L1047.9,399.8 L1049.9,399.7 L1051.9,399.6 L1053.9,399.5 L1055.9,399.4 L1057.9,399.2 L1059.9,399.1 L1061.9,399.0 L1063.9,398.9 L1065.9,398.8 L1067.9,398.7 L1069.9,398.5 L1071.9,398.4 L1073.9,398.3 L1075.9,398.2 L1077.9,398.1 L1079.9,398.0 L1081.9,397.9 L1083.9,397.7 L1085.9,397.6 L1087.9,397.5 L1089.9,397.4 L1091.9,397.3 L1093.9,397.2 L1095.9,397.1 L1097.9,397.0 L1099.9,396.9 L1101.9,396.8 L1103.9,396.6 L1106.0,396.5 L1108.0,396.4 L1110.0,396.3 L1112.0,396.2 L1114.0,396.1 L1116.0,396.0 L1118.0,395.9 L1120.0,395.8 L1122.0,395.7 L1124.0,395.6 L1126.0,395.5 L1128.0,395.4 L1130.0,395.3 L1132.0,395.2 L1134.0,395.1 L1136.0,395.0 L1138.0,394.9 L1140.0,394.8 L1142.0,394.7 L1144.0,394.6 L1146.0,394.5 L1148.0,394.4 L1150.0,394.3 L1152.0,394.2 L1154.0,394.1 L1156.0,394.0 L1158.0,393.9 L1160.0,393.8 L1162.0,393.7 L1164.0,393.6 L1166.0,393.5 L1168.0,393.4 L1170.0,393.3 L1172.0,393.2 L1174.0,393.1 L1176.0,393.0 L1178.0,392.9 L1180.0,392.8 L1182.0,392.7 L1184.0,392.6 L1186.0,392.5 L1188.0,392.4 L1190.0,392.3 L1192.0,392.2 L1194.0,392.2 L1196.1,392.1 L1198.1,392.0 L1200.1,391.9 L1202.1,391.8 L1204.1,391.7 L1206.1,391.6 L1208.1,391.5 L1210.1,391.4 L1212.1,391.3 L1214.1,391.3 L1216.1,391.2 L1218.1,391.1 L1220.1,391.0 L1222.1,390.9 L1224.1,390.8 L1226.1,390.7 L1228.1,390.7 L1230.1,390.6 L1232.1,390.5 L1234.1,390.4 L1236.1,390.3 L1238.1,390.2 L1240.1,390.1 L1242.1,390.1 L1244.1,390.0 L1246.1,389.9 L1248.1,389.8 L1250.1,389.7 L1252.1,389.7 L1254.1,389.6 L1256.1,389.5 L1258.1,389.4 L1260.1,389.3 L1262.1,389.2 L1264.2,389.2 L1266.2,389.1 L1268.2,389.0 L1270.2,388.9 L1272.2,388.9 L1274.2,388.8 L1276.2,388.7 L1278.2,388.6 L1280.2,388.5 L1282.2,388.5 L1284.2,388.4 L1286.2,388.3 L1288.2,388.2 L1290.2,388.2 L1292.2,388.1 L1294.2,388.0 L1296.2,387.9 L1298.2,387.9 L1300.2,387.8 L1302.2,387.7 L1304.2,387.6 L1306.2,387.6 L1308.2,387.5 L1310.2,387.4 L1312.2,387.4 L1314.2,387.3 L1316.2,387.2 L1318.2,387.1 L1320.2,387.1 L1322.2,387.0 L1324.2,386.9 L1326.3,386.9 L1328.3,386.8 L1330.3,386.7 L1332.3,386.7 L1334.3,386.6 L1336.3,386.5 L1338.3,386.4 L1340.3,386.4 L1342.3,386.3 L1344.3,386.2 L1346.3,386.2 L1348.3,386.1 L1350.3,386.0 L1352.3,386.0 L1354.3,385.9 L1356.3,385.9 L1358.3,385.8 L1360.3,385.7 L1362.3,385.7 L1364.3,385.6 L1366.3,385.5 L1368.3,385.5 L1370.3,385.4 L1372.3,385.3 L1374.3,385.3 L1376.3,385.2 L1378.3,385.2 L1380.4,385.1 L1382.4,385.0 L1384.4,385.0 L1386.4,384.9 L1388.4,384.8 L1390.4,384.8 L1392.4,384.7 L1394.4,384.7 L1396.4,384.6 L1398.4,384.6 L1400.4,384.5 L1402.4,384.4 L1404.4,384.4 L1406.4,384.3 L1408.4,384.3 L1410.4,384.2 L1412.4,384.1 L1414.4,384.1 L1416.4,384.0 L1418.4,384.0 L1420.4,383.9 L1422.4,383.9 L1424.4,383.8 L1426.4,383.8 L1428.4,383.7 L1430.4,383.6 L1432.5,383.6 L1434.5,383.5 L1436.5,383.5 L1438.5,383.4 L1440.5,383.4 L1442.5,383.3 L1444.5,383.3 L1446.5,383.2 L1448.5,383.2 L1450.5,383.1 L1452.5,383.1 L1454.5,383.0 L1456.5,383.0 L1458.5,382.9 L1460.5,382.9 L1462.5,382.8 L1464.5,382.8 L1466.5,382.7 L1468.5,382.7 L1470.5,382.6 L1472.5,382.6 L1474.5,382.5 L1476.5,382.5 L1478.5,382.4 L1480.5,382.4 L1482.6,382.3 L1484.6,382.3 L1486.6,382.2 L1488.6,382.2 L1490.6,382.1 L1492.6,382.1 L1494.6,382.0 L1496.6,382.0 L1498.6,381.9 L1500.6,381.9 L1502.6,381.8 L1504.6,381.8 L1506.6,381.8 L1508.6,381.7 L1510.6,381.7 L1512.6,381.6 L1514.6,381.6 L1516.6,381.5 L1518.6,381.5 L1520.6,381.4 L1522.6,381.4 L1524.6,381.4 L1526.6,381.3 L1528.7,381.3 L1530.7,381.2 L1532.7,381.2 L1534.7,381.2 L1536.7,381.1 L1538.7,381.1 L1540.7,381.0 L1542.7,381.0 L1544.7,380.9 L1546.7,380.9 L1548.7,380.9 L1550.7,380.8 L1552.7,380.8 L1554.7,380.7 L1556.7,380.7 L1558.7,380.7 L1560.7,380.6 L1562.7,380.6 L1564.7,380.6 L1566.7,380.5 L1568.7,380.5 L1570.7,380.4 L1572.7,380.4 L1574.8,380.4 L1576.8,380.3 L1578.8,380.3 L1580.8,380.3 L1582.8,380.2 L1584.8,380.2 L1586.8,380.1 L1588.8,380.1 L1590.8,380.1 L1592.8,380.0 L1594.8,380.0 L1596.8,380.0 L1598.8,379.9 L1600.8,379.9 L1602.8,379.9 L1604.8,379.8 L1606.8,379.8 L1608.8,379.8 L1610.8,379.7 L1612.8,379.7 L1614.8,379.7 L1616.8,379.6 L1618.8,379.6 L1620.9,379.6 L1622.9,379.5 L1624.9,379.5 L1626.9,379.5 L1628.9,379.4 L1630.9,379.4 L1632.9,379.4 L1634.9,379.3 L1636.9,379.3 L1638.9,379.3 L1640.9,379.3 L1642.9,379.2 L1644.9,379.2 L1646.9,379.2 L1648.9,379.1 L1650.9,379.1 L1652.9,379.1 L1654.9,379.0 L1656.9,379.0 L1658.9,379.0 L1660.9,379.0 L1662.9,378.9 L1665.0,378.9 L1667.0,378.9 L1669.0,378.8 L1671.0,378.8 L1673.0,378.8 L1675.0,378.8 L1677.0,378.7 L1679.0,378.7 L1681.0,378.7 L1683.0,378.7 L1685.0,378.6 L1687.0,378.6"/>
<path stroke="#1a6fde" d="M222.0,250.0 L224.2,590.0 L232.0,1099.0 L300.5,816.0 L367.5,743.0 L369.1,741.9 L370.8,740.7 L372.5,739.6 L374.1,738.5 L375.8,737.3 L377.5,736.2 L379.1,735.1 L380.8,734.0 L382.5,732.9 L384.2,731.9 L385.9,730.8 L387.6,729.7 L389.3,728.6 L391.0,727.6 L392.7,726.5 L394.4,725.5 L396.1,724.5 L397.8,723.4 L399.6,722.4 L401.3,721.4 L403.0,720.4 L404.8,719.4 L406.5,718.4 L408.2,717.4 L410.0,716.4 L411.8,715.4 L413.5,714.5 L415.3,713.5 L417.0,712.6 L418.8,711.6 L420.6,710.7 L422.4,709.7 L424.1,708.8 L425.9,707.9 L427.7,707.0 L429.5,706.1 L431.3,705.2 L433.1,704.3 L434.9,703.4 L436.7,702.6 L438.5,701.7 L440.3,700.8 L442.1,700.0 L444.0,699.1 L445.8,698.3 L447.6,697.5 L449.4,696.6 L451.3,695.8 L453.1,695.0 L454.9,694.2 L456.8,693.4 L458.6,692.6 L460.5,691.8 L462.3,691.0 L464.2,690.3 L466.0,689.5 L467.9,688.7 L469.7,688.0 L471.6,687.2 L473.4,686.5 L475.3,685.7 L477.2,685.0 L479.0,684.3 L480.9,683.5 L482.8,682.8 L484.7,682.1 L486.5,681.4 L488.4,680.6 L490.3,679.9 L492.2,679.2 L494.0,678.5 L495.9,677.8 L497.8,677.2 L499.7,676.5 L501.6,675.8 L503.5,675.1 L505.4,674.4 L507.2,673.8 L509.1,673.1 L511.0,672.5 L512.9,671.8 L514.8,671.1 L516.7,670.5 L518.6,669.9 L520.5,669.2 L522.4,668.6 L524.3,668.0 L526.2,667.3 L528.1,666.7 L530.1,666.1 L532.0,665.5 L533.9,664.9 L535.8,664.3 L537.7,663.7 L539.6,663.1 L541.5,662.5 L543.5,661.9 L545.4,661.3 L547.3,660.7 L549.2,660.1 L551.1,659.6 L553.1,659.0 L555.0,658.4 L556.9,657.9 L558.8,657.3 L560.8,656.7 L562.7,656.2 L564.6,655.6 L566.5,655.1 L568.5,654.5 L570.4,654.0 L572.3,653.5 L574.3,652.9 L576.2,652.4 L578.1,651.9 L580.1,651.4 L582.0,650.8 L584.0,650.3 L585.9,649.8 L587.8,649.3 L589.8,648.8 L591.7,648.3 L593.7,647.8 L595.6,647.3 L597.5,646.8 L599.5,646.3 L601.4,645.8 L603.4,645.3 L605.3,644.8 L607.3,644.3 L609.2,643.9 L611.2,643.4 L613.1,642.9 L615.1,642.4 L617.0,642.0 L619.0,641.5 L620.9,641.0 L622.9,640.6 L624.8,640.1 L626.8,639.7 L628.7,639.2 L630.7,638.8 L632.6,638.3 L634.6,637.9 L636.6,637.4 L638.5,637.0 L640.5,636.6 L642.4,636.1 L644.4,635.7 L646.3,635.2 L648.3,634.8 L650.3,634.4 L652.2,634.0 L654.2,633.5 L656.1,633.1 L658.1,632.7 L660.1,632.3 L662.0,631.9 L664.0,631.4 L666.0,631.0 L667.9,630.6 L669.9,630.2 L671.9,629.8 L673.8,629.4 L675.8,629.0 L677.7,628.6 L679.7,628.2 L681.7,627.8 L683.6,627.4 L685.6,627.0 L687.6,626.6 L689.5,626.2 L691.5,625.8 L693.5,625.4 L695.4,625.0 L697.4,624.7 L699.4,624.3 L701.4,623.9 L703.3,623.5 L705.3,623.1 L707.3,622.7 L709.2,622.4 L711.2,622.0 L713.2,621.6 L715.1,621.2 L717.1,620.9 L719.1,620.5 L721.1,620.1 L723.0,619.7 L725.0,619.4 L727.0,619.0 L728.9,618.6 L730.9,618.3 L732.9,617.9 L734.9,617.5 L736.8,617.2 L738.8,616.8 L740.8,616.4 L742.7,616.1 L744.7,615.7 L746.7,615.3 L748.7,615.0 L750.6,614.6 L752.6,614.3 L754.6,613.9 L756.6,613.5 L758.5,613.2 L760.5,612.8 L762.5,612.5 L764.5,612.1 L766.4,611.8 L768.4,611.4 L770.4,611.1 L772.4,610.7 L774.3,610.4 L776.3,610.0 L778.3,609.7 L780.3,609.3 L782.2,609.0 L784.2,608.6 L786.2,608.3 L788.2,607.9 L790.1,607.6 L792.1,607.3 L794.1,606.9 L796.1,606.6 L798.0,606.2 L800.0,605.9 L802.0,605.6 L804.0,605.2 L806.0,604.9 L807.9,604.6 L809.9,604.2 L811.9,603.9 L813.9,603.6 L815.8,603.2 L817.8,602.9 L819.8,602.6 L821.8,602.2 L823.8,601.9 L825.7,601.6 L827.7,601.2 L829.7,600.9 L831.7,600.6 L833.7,600.3 L835.6,599.9 L837.6,599.6 L839.6,599.3 L841.6,599.0 L843.6,598.7 L845.5,598.3 L847.5,598.0 L849.5,597.7 L851.5,597.4 L853.5,597.1 L855.4,596.8 L857.4,596.4 L859.4,596.1 L861.4,595.8 L863.4,595.5 L865.3,595.2 L867.3,594.9 L869.3,594.6 L871.3,594.3 L873.3,594.0 L875.3,593.7 L877.2,593.4 L879.2,593.0 L881.2,592.7 L883.2,592.4 L885.2,592.1 L887.2,591.8 L889.1,591.5 L891.1,591.2 L893.1,590.9 L895.1,590.6 L897.1,590.3 L899.1,590.0 L901.0,589.7 L903.0,589.4 L905.0,589.1 L907.0,588.9 L909.0,588.6 L911.0,588.3 L912.9,588.0 L914.9,587.7 L916.9,587.4 L918.9,587.1 L920.9,586.8 L922.9,586.5 L924.9,586.2 L926.8,586.0 L928.8,585.7 L930.8,585.4 L932.8,585.1 L934.8,584.8 L936.8,584.5 L938.8,584.3 L940.7,584.0 L942.7,583.7 L944.7,583.4 L946.7,583.1 L948.7,582.9 L950.7,582.6 L952.7,582.3 L954.6,582.0 L956.6,581.8 L958.6,581.5 L960.6,581.2 L962.6,580.9 L964.6,580.7 L966.6,580.4 L968.6,580.1 L970.5,579.9 L972.5,579.6 L974.5,579.3 L976.5,579.0 L978.5,578.8 L980.5,578.5 L982.5,578.2 L984.5,578.0 L986.5,577.7 L988.4,577.5 L990.4,577.2 L992.4,576.9 L994.4,576.7 L996.4,576.4 L998.4,576.2 L1000.4,575.9 L1002.4,575.6 L1004.4,575.4 L1006.3,575.1 L1008.3,574.9 L1010.3,574.6 L1012.3,574.4 L1014.3,574.1 L1016.3,573.9 L1018.3,573.6 L1020.3,573.4 L1022.3,573.1 L1024.3,572.9 L1026.2,572.6 L1028.2,572.4 L1030.2,572.1 L1032.2,571.9 L1034.2,571.6 L1036.2,571.4 L1038.2,571.1 L1040.2,570.9 L1042.2,570.6 L1044.2,570.4 L1046.2,570.1 L1048.1,569.9 L1050.1,569.7 L1052.1,569.4 L1054.1,569.2 L1056.1,568.9 L1058.1,568.7 L1060.1,568.5 L1062.1,568.2 L1064.1,568.0 L1066.1,567.8 L1068.1,567.5 L1070.1,567.3 L1072.0,567.1 L1074.0,566.8 L1076.0,566.6 L1078.0,566.4 L1080.0,566.1 L1082.0,565.9 L1084.0,565.7 L1086.0,565.5 L1088.0,565.2 L1090.0,565.0 L1092.0,564.8 L1094.0,564.5 L1096.0,564.3 L1098.0,564.1 L1099.9,563.9 L1101.9,563.6 L1103.9,563.4 L1105.9,563.2 L1107.9,563.0 L1109.9,562.8 L1111.9,562.5 L1113.9,562.3 L1115.9,562.1 L1117.9,561.9 L1119.9,561.7 L1121.9,561.5 L1123.9,561.2 L1125.9,561.0 L1127.9,560.8 L1129.9,560.6 L1131.9,560.4 L1133.8,560.2 L1135.8,560.0 L1137.8,559.7 L1139.8,559.5 L1141.8,559.3 L1143.8,559.1 L1145.8,558.9 L1147.8,558.7 L1149.8,558.5 L1151.8,558.3 L1153.8,558.1 L1155.8,557.9 L1157.8,557.7 L1159.8,557.5 L1161.8,557.3 L1163.8,557.1 L1165.8,556.9 L1167.8,556.7 L1169.8,556.5 L1171.8,556.3 L1173.8,556.1 L1175.8,555.9 L1177.7,555.7 L1179.7,555.5 L1181.7,555.3 L1183.7,555.1 L1185.7,554.9 L1187.7,554.7 L1189.7,554.5 L1191.7,554.3 L1193.7,554.1 L1195.7,553.9 L1197.7,553.7 L1199.7,553.5 L1201.7,553.3 L1203.7,553.1 L1205.7,552.9 L1207.7,552.7 L1209.7,552.6 L1211.7,552.4 L1213.7,552.2 L1215.7,552.0 L1217.7,551.8 L1219.7,551.6 L1221.7,551.4 L1223.7,551.3 L1225.7,551.1 L1227.7,550.9 L1229.7,550.7 L1231.7,550.5 L1233.7,550.3 L1235.7,550.2 L1237.7,550.0 L1239.7,549.8 L1241.7,549.6 L1243.7,549.4 L1245.6,549.3 L1247.6,549.1 L1249.6,548.9 L1251.6,548.7 L1253.6,548.5 L1255.6,548.4 L1257.6,548.2 L1259.6,548.0 L1261.6,547.8 L1263.6,547.7 L1265.6,547.5 L1267.6,547.3 L1269.6,547.2 L1271.6,547.0 L1273.6,546.8 L1275.6,546.6 L1277.6,546.5 L1279.6,546.3 L1281.6,546.1 L1283.6,546.0 L1285.6,545.8 L1287.6,545.6 L1289.6,545.5 L1291.6,545.3 L1293.6,545.1 L1295.6,545.0 L1297.6,544.8 L1299.6,544.6 L1301.6,544.5 L1303.6,544.3 L1305.6,544.2 L1307.6,544.0 L1309.6,543.8 L1311.6,543.7 L1313.6,543.5 L1315.6,543.4 L1317.6,543.2 L1319.6,543.0 L1321.6,542.9 L1323.6,542.7 L1325.6,542.6 L1327.6,542.4 L1329.6,542.3 L1331.6,542.1 L1333.6,541.9 L1335.6,541.8 L1337.6,541.6 L1339.6,541.5 L1341.6,541.3 L1343.6,541.2 L1345.6,541.0 L1347.6,540.9 L1349.6,540.7 L1351.6,540.6 L1353.6,540.4 L1355.6,540.3 L1357.6,540.1 L1359.6,540.0 L1361.6,539.8 L1363.6,539.7 L1365.6,539.5 L1367.6,539.4 L1369.6,539.3 L1371.6,539.1 L1373.6,539.0 L1375.6,538.8 L1377.6,538.7 L1379.6,538.5 L1381.6,538.4 L1383.6,538.2 L1385.6,538.1 L1387.6,538.0 L1389.6,537.8 L1391.6,537.7 L1393.6,537.5 L1395.6,537.4 L1397.6,537.3 L1399.6,537.1 L1401.6,537.0 L1403.6,536.9 L1405.6,536.7 L1407.6,536.6 L1409.6,536.4 L1411.6,536.3 L1413.6,536.2 L1415.6,536.0 L1417.6,535.9 L1419.6,535.8 L1421.6,535.6 L1423.6,535.5 L1425.6,535.4 L1427.6,535.2 L1429.7,535.1 L1431.7,535.0 L1433.7,534.8 L1435.7,534.7 L1437.7,534.6 L1439.7,534.5 L1441.7,534.3 L1443.7,534.2 L1445.7,534.1 L1447.7,533.9 L1449.7,533.8 L1451.7,533.7 L1453.7,533.6 L1455.7,533.4 L1457.7,533.3 L1459.7,533.2 L1461.7,533.1 L1463.7,532.9 L1465.7,532.8 L1467.7,532.7 L1469.7,532.6 L1471.7,532.5 L1473.7,532.3 L1475.7,532.2 L1477.7,532.1 L1479.7,532.0 L1481.7,531.8 L1483.7,531.7 L1485.7,531.6 L1487.7,531.5 L1489.7,531.4 L1491.7,531.3 L1493.7,531.1 L1495.7,531.0 L1497.7,530.9 L1499.7,530.8 L1501.7,530.7 L1503.7,530.6 L1505.7,530.4 L1507.7,530.3 L1509.7,530.2 L1511.7,530.1 L1513.7,530.0 L1515.7,529.9 L1517.7,529.8 L1519.8,529.6 L1521.8,529.5 L1523.8,529.4 L1525.8,529.3 L1527.8,529.2 L1529.8,529.1 L1531.8,529.0 L1533.8,528.9 L1535.8,528.8 L1537.8,528.7 L1539.8,528.5 L1541.8,528.4 L1543.8,528.3 L1545.8,528.2 L1547.8,528.1 L1549.8,528.0 L1551.8,527.9 L1553.8,527.8 L1555.8,527.7 L1557.8,527.6 L1559.8,527.5 L1561.8,527.4 L1563.8,527.3 L1565.8,527.2 L1567.8,527.1 L1569.8,527.0 L1571.8,526.9 L1573.8,526.8 L1575.8,526.7 L1577.8,526.6 L1579.8,526.5 L1581.8,526.4 L1583.9,526.3 L1585.9,526.2 L1587.9,526.1 L1589.9,526.0 L1591.9,525.9 L1593.9,525.8 L1595.9,525.7 L1597.9,525.6 L1599.9,525.5 L1601.9,525.4 L1603.9,525.3 L1605.9,525.2 L1607.9,525.1 L1609.9,525.0 L1611.9,524.9 L1613.9,524.8 L1615.9,524.7 L1617.9,524.6 L1619.9,524.5 L1621.9,524.4 L1623.9,524.3 L1625.9,524.2 L1627.9,524.1 L1629.9,524.0 L1631.9,523.9 L1633.9,523.9 L1635.9,523.8 L1638.0,523.7 L1640.0,523.6 L1642.0,523.5 L1644.0,523.4 L1646.0,523.3 L1648.0,523.2 L1650.0,523.1 L1652.0,523.0 L1654.0,523.0 L1656.0,522.9 L1658.0,522.8 L1660.0,522.7 L1662.0,522.6"/>
</g>
<rect x="215.9" y="248" width="2.9" height="1030" fill="#484848" fill-opacity="0.55"/>
<g font-size="81">
<text transform="translate(134.45,75.1) scale(1,1.04)"><tspan dx="2.6">1</tspan></text>
<text transform="translate(179.50,278.5) scale(1,1.04)" text-anchor="end">0</text>
<text transform="translate(107.48,481.9) scale(1,1.04)">-<tspan dx="2.6">1</tspan></text>
<text transform="translate(179.50,685.4) scale(1,1.04)" text-anchor="end">-2</text>
<text transform="translate(179.50,888.8) scale(1,1.04)" text-anchor="end">-3</text>
<text transform="translate(179.50,1092.3) scale(1,1.04)" text-anchor="end">-4</text>
<text transform="translate(179.50,1295.8) scale(1,1.04)" text-anchor="end">-5</text>
<text transform="translate(218.50,1375.5) scale(1,1.04)" text-anchor="middle">0</text>
<text transform="translate(425.75,1375.5) scale(1,1.04)"><tspan dx="2.6">1</tspan><tspan dx="-2.6">0</tspan></text>
<text transform="translate(723.10,1375.5) scale(1,1.04)" text-anchor="middle">20</text>
<text transform="translate(975.40,1375.5) scale(1,1.04)" text-anchor="middle">30</text>
<text transform="translate(1227.70,1375.5) scale(1,1.04)" text-anchor="middle">40</text>
<text transform="translate(1480.00,1375.5) scale(1,1.04)" text-anchor="middle">50</text>
<text transform="translate(1732.30,1375.5) scale(1,1.04)" text-anchor="middle">60</text>
<text transform="translate(826.4,1502.2) scale(1,1.04)" style="letter-spacing:0.7px">Time (s)</text>
<text transform="translate(76.20,660.2) rotate(-90) scale(1,1.04)" text-anchor="middle">σ (MPa)</text>
<text transform="translate(261.70,214.3) scale(1,1.04)">Error (R2) = 0.957</text>
<line x1="618.7" y1="915.6" x2="804.2" y2="915.6" stroke="#ef4040" stroke-width="12.5"/>
<text transform="translate(824.00,943.2) scale(1,1.04)">F<tspan dx="2.6">1</tspan><tspan dx="-2.6"> </tspan>@-<tspan dx="2.6">1</tspan><tspan dx="-2.6">m</tspan>m experimental</text>
<line x1="618.7" y1="1014.2" x2="804.2" y2="1014.2" stroke="#ef4040" stroke-width="12.5"/>
<text transform="translate(824.00,1041.8) scale(1,1.04)">F<tspan dx="2.6">1</tspan><tspan dx="-2.6"> </tspan>@-2mm experimental</text>
<line x1="618.7" y1="1112.3" x2="804.2" y2="1112.3" stroke="#1a6fde" stroke-width="12.5"/>
<text transform="translate(824.00,1140.4) scale(1,1.04)">F<tspan dx="2.6">1</tspan><tspan dx="-2.6"> </tspan>@-<tspan dx="2.6">1</tspan><tspan dx="-2.6">m</tspan>m prediction</text>
<line x1="618.7" y1="1210.8" x2="804.2" y2="1210.8" stroke="#1a6fde" stroke-width="12.5"/>
<text transform="translate(824.00,1239.0) scale(1,1.04)">F<tspan dx="2.6">1</tspan><tspan dx="-2.6"> </tspan>@-2mm prediction</text>
</g>
<rect x="142.2" y="67.2" width="15.0" height="9.1" fill="#fff"/>
<rect x="164.8" y="67.2" width="14.4" height="9.1" fill="#fff"/>
<rect x="142.2" y="474.1" width="15.0" height="9.1" fill="#fff"/>
<rect x="164.8" y="474.1" width="14.4" height="9.1" fill="#fff"/>
<rect x="433.5" y="1367.6" width="15.0" height="9.1" fill="#fff"/>
<rect x="456.1" y="1367.6" width="14.4" height="9.1" fill="#fff"/>
<rect x="881.2" y="935.3" width="15.0" height="9.1" fill="#fff"/>
<rect x="903.8" y="935.3" width="14.4" height="9.1" fill="#fff"/>
<rect x="1058.0" y="935.3" width="15.0" height="9.1" fill="#fff"/>
<rect x="1080.6" y="935.3" width="14.4" height="9.1" fill="#fff"/>
<rect x="881.2" y="1033.9" width="15.0" height="9.1" fill="#fff"/>
<rect x="903.8" y="1033.9" width="14.4" height="9.1" fill="#fff"/>
<rect x="881.2" y="1132.5" width="15.0" height="9.1" fill="#fff"/>
<rect x="903.8" y="1132.5" width="14.4" height="9.1" fill="#fff"/>
<rect x="1058.0" y="1132.5" width="15.0" height="9.1" fill="#fff"/>
<rect x="1080.6" y="1132.5" width="14.4" height="9.1" fill="#fff"/>
<rect x="881.2" y="1231.1" width="15.0" height="9.1" fill="#fff"/>
<rect x="903.8" y="1231.1" width="14.4" height="9.1" fill="#fff"/>
</svg>
</body></html>
